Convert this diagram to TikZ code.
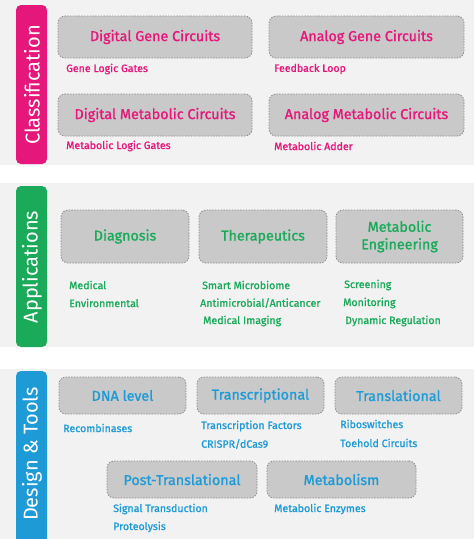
\documentclass[tikz,border=0pt]{standalone}
\usepackage{fontspec}
\setmainfont{Fira Sans}
\newfontfamily\medfont[FakeBold=1.2]{Fira Sans}
\definecolor{cpink}{HTML}{E5177B}
\definecolor{cgreen}{HTML}{1AAA5A}
\definecolor{cblue}{HTML}{1E9BD7}
\definecolor{panelbg}{HTML}{F2F2F2}
\definecolor{boxbg}{HTML}{C9C9C9}
\definecolor{boxline}{HTML}{8A8A8A}
\tikzset{
  panel/.style={fill=panelbg, draw=none},
  sidebar/.style={rounded corners=5pt, draw=none},
  sidetext/.style={text=white, rotate=90, font=\fontsize{20}{22}\selectfont, inner sep=0pt},
  catbox/.style={draw=boxline, fill=boxbg, rounded corners=7pt, line width=0.8pt,
    dash pattern=on 1.4pt off 1.4pt, inner sep=2pt, align=center,
    font=\medfont\fontsize{14.3}{17.5}\selectfont},
  itemlabel/.style={anchor=west, inner sep=0pt, font=\medfont\fontsize{10.6}{11}\selectfont},
}
\begin{document}
\begin{tikzpicture}[x=1pt,y=-1pt]
\clip (0,0) rectangle (474,539);
\fill[white] (0,0) rectangle (474,539);
% panels
\path[panel] (0,0) rectangle (474,165);
\path[panel] (0,183) rectangle (474,347);
\path[panel] (0,369) rectangle (474,539);
% side bars
\path[sidebar, fill=cpink] (16,5) rectangle (47,164);
\path[sidebar, fill=cgreen] (16,186) rectangle (47,347);
\path[sidebar, fill=cblue] (16,371) rectangle (47,550);
\node[sidetext] (tc) at (32,85) {Classification};
\node[sidetext] (ta) at (32,267) {Applications};
\node[sidetext] (td) at (32,454) {Design \& Tools};
% Classification
\begin{scope}[every node/.append style={text=cpink}]
\node[catbox, minimum width=194pt, minimum height=42pt] (dgc) at (155,37) {Digital Gene Circuits};
\node[catbox, minimum width=195pt, minimum height=42pt] (agc) at (366.5,37) {Analog Gene Circuits};
\node[catbox, minimum width=194pt, minimum height=42pt] (dmc) at (155,115) {Digital Metabolic Circuits};
\node[catbox, minimum width=195pt, minimum height=42pt] (amc) at (366.5,115) {Analog Metabolic Circuits};
\node[itemlabel] (l1) at (66,69) {Gene Logic Gates};
\node[itemlabel] (l2) at (274,69) {Feedback Loop};
\node[itemlabel] (l3) at (66,146) {Metabolic Logic Gates};
\node[itemlabel] (l4) at (274,146) {Metabolic Adder};
\end{scope}
% Applications
\begin{scope}[every node/.append style={text=cgreen}]
\node[catbox, minimum width=128pt, minimum height=53pt] (diag) at (125,236.5) {Diagnosis};
\node[catbox, minimum width=128pt, minimum height=53pt] (ther) at (263,236.5) {Therapeutics};
\node[catbox, minimum width=127pt, minimum height=53pt] (meng) at (399.5,236.5) {Metabolic\\Engineering};
\node[itemlabel] (a1) at (69,285) {Medical};
\node[itemlabel] (a2) at (69,303) {Environmental};
\node[itemlabel] (a3) at (202,285) {Smart Microbiome};
\node[itemlabel] (a4) at (200,303) {Antimicrobial/Anticancer};
\node[itemlabel] (a5) at (203,321) {Medical Imaging};
\node[itemlabel] (a6) at (344,285) {Screening};
\node[itemlabel] (a7) at (343,303) {Monitoring};
\node[itemlabel] (a8) at (345,321) {Dynamic Regulation};
\end{scope}
% Design & Tools
\begin{scope}[every node/.append style={text=cblue}]
\node[catbox, minimum width=127pt, minimum height=37pt] (dna) at (122.5,395.5) {DNA level};
\node[catbox, minimum width=127pt, minimum height=37pt] (trc) at (260.5,395.5) {Transcriptional};
\node[catbox, minimum width=127pt, minimum height=37pt] (trl) at (398.5,395.5) {Translational};
\node[catbox, minimum width=150pt, minimum height=37pt] (ptl) at (182,479.5) {Post-Translational};
\node[catbox, minimum width=149pt, minimum height=37pt] (met) at (341.5,479.5) {Metabolism};
\node[itemlabel] (d1) at (63,428) {Recombinases};
\node[itemlabel] (d2) at (201,426) {Transcription Factors};
\node[itemlabel] (d3) at (201,444) {CRISPR/dCas9};
\node[itemlabel] (d4) at (340,424) {Riboswitches};
\node[itemlabel] (d5) at (340,443) {Toehold Circuits};
\node[itemlabel] (d6) at (113,509) {Signal Transduction};
\node[itemlabel] (d7) at (113,527) {Proteolysis};
\node[itemlabel] (d8) at (274,509) {Metabolic Enzymes};
\end{scope}
\end{tikzpicture}
\end{document}
